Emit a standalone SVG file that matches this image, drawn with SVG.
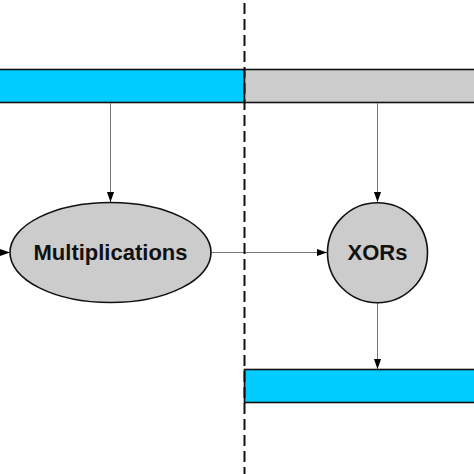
<svg xmlns="http://www.w3.org/2000/svg" width="474" height="474" viewBox="0 0 474 474">
<defs>
<marker id="ah" markerWidth="10" markerHeight="14" viewBox="0 0 14 10" refX="14" refY="5" orient="auto" markerUnits="userSpaceOnUse">
<path d="M0,0 L14,5 L0,10 Z" fill="#000"/>
</marker>
<style>
.bar{stroke:#111;stroke-width:1.6}
.blue{fill:#00ccff}
.grey{fill:#cccccc}
.node{fill:#cccccc;stroke:#111;stroke-width:1.6}
.lbl{font-family:"Liberation Sans",Arial,Helvetica,sans-serif;font-weight:bold;font-size:22px;fill:#111;text-anchor:middle}
.conn{stroke:#777;stroke-width:1;fill:none;marker-end:url(#ah)}
</style>
</defs>
<rect width="474" height="474" fill="#fff"/>
<g id="bar-top-left"><rect class="bar blue" x="-2" y="69.5" width="246.5" height="33"/></g>
<g id="bar-top-right"><rect class="bar grey" x="244.5" y="69.5" width="232" height="33"/></g>
<g id="bar-bottom"><rect class="bar blue" x="244.5" y="369.5" width="232" height="33"/></g>
<g id="connectors">
<line class="conn" x1="110.5" y1="103" x2="110.5" y2="202"/>
<line class="conn" x1="0" y1="252.5" x2="10" y2="252.5"/>
<line class="conn" x1="211" y1="252.5" x2="327" y2="252.5"/>
<line class="conn" x1="377.5" y1="103" x2="377.5" y2="202"/>
<line class="conn" x1="377.5" y1="303" x2="377.5" y2="369"/>
</g>
<g id="multiplications">
<ellipse class="node" cx="110.5" cy="252.5" rx="100.5" ry="50"/>
<text class="lbl" x="110.5" y="260">Multiplications</text>
</g>
<g id="xors">
<circle class="node" cx="377.5" cy="252.7" r="50"/>
<text class="lbl" x="377.5" y="260">XORs</text>
</g>
<g id="divider">
<line x1="244.5" y1="3" x2="244.5" y2="474" stroke="#111" stroke-width="2" stroke-dasharray="11 5"/>
</g>
</svg>
